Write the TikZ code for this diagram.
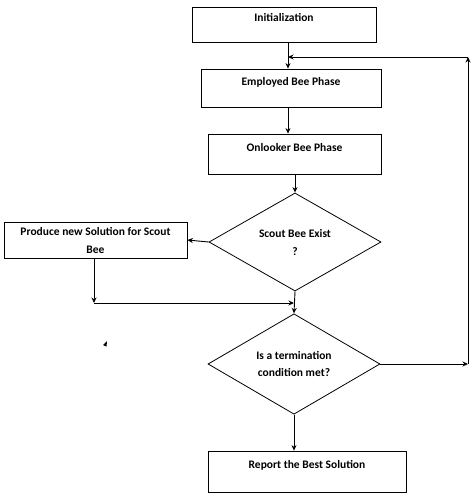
\documentclass[tikz,border=0pt]{standalone}
\usepackage{fontspec}
\setmainfont{Carlito}
\usetikzlibrary{shapes.geometric,arrows.meta}

\begin{document}
\begin{tikzpicture}[x=1pt, y=-1pt,
      every node/.style={draw, line width=0.8pt, align=center, inner sep=0pt,
        font=\fontsize{11.5}{14}\selectfont\bfseries},
      phase/.style={shape=rectangle},
      test/.style={shape=diamond},
      arr/.style={-{Stealth[length=5.5pt,width=5pt]}, line width=0.9pt}]
      \useasboundingbox (0,0) rectangle (474,499);
      % boxes
      \node[phase, minimum width=184pt, minimum height=35pt] (init) at (284,24.5) {Initialization\\\mbox{}};
      \node[phase, minimum width=180pt, minimum height=38pt] (emp) at (291,88) {Employed Bee Phase\\\mbox{}};
      \node[phase, minimum width=173pt, minimum height=40pt] (onl) at (294.5,154) {Onlooker Bee Phase\\\mbox{}};
      \node[test, minimum width=172pt, minimum height=78pt] (scout) at (295,242) {Scout Bee Exist\\[4pt]?};
      \node[phase, minimum width=183pt, minimum height=36pt] (prod) at (95.5,240) {Produce new Solution for Scout\\[4pt]Bee};
      \node[test, minimum width=172pt, minimum height=94pt] (term) at (294,364) {Is a termination\\[3pt]condition met?};
      \node[phase, minimum width=198pt, minimum height=41pt] (rep) at (307,471.5) {Report the Best Solution\\\mbox{}};
      % bends
      \coordinate (j1) at (288,57);
      \coordinate (r1) at (468,364);
      \coordinate (r2) at (468,57);
      \coordinate (m1) at (94,303);
      \coordinate (m2) at (294,303);
      % connectors
      \draw[arr] (init.south -| j1) -- (emp.north -| j1);
      \draw[arr] (emp.south -| j1) -- (onl.north -| j1);
      \draw[arr] (onl.south -| scout.north) -- (scout.north);
      \draw[arr] (scout.west) -- (prod.east);
      \draw[arr] (prod.south -| m1) -- (m1);
      \draw[arr] (m1) -- (m2);
      \draw[arr] (scout.south) -- (term.north);
      \draw[arr] (term.south) -- (term.south |- rep.north);
      \draw[arr] (term.east) -- (r1);
      \draw[arr] (r1) -- (r2);
      \draw[arr] (r2) -- (j1);
      % stray mark
      \fill (103,345) -- (107,341) -- (106.5,346.5) -- cycle;
    \end{tikzpicture}
\end{document}
